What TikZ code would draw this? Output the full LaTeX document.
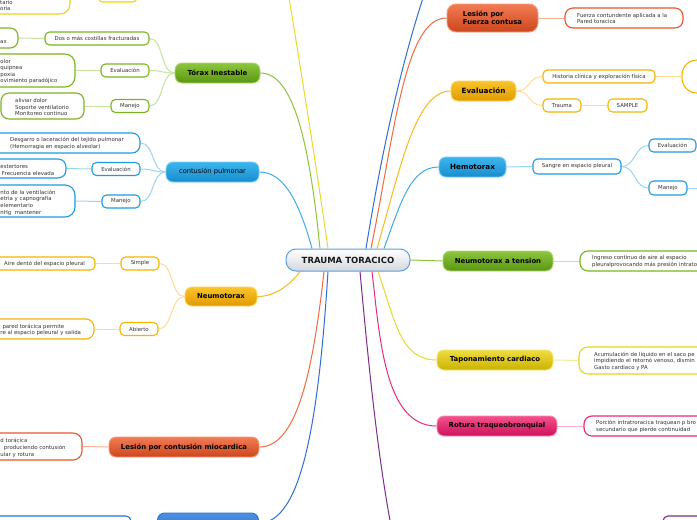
\documentclass[tikz,border=0pt]{standalone}
\usepackage{fontspec}
\setmainfont{DejaVu Sans}
\usetikzlibrary{calc}
\pgfdeclarelayer{bg}
\pgfsetlayers{bg,main}
% green
\definecolor{grnT}{HTML}{8DC63F}\definecolor{grnD}{HTML}{5A9612}\definecolor{grnB}{HTML}{B0D870}
\definecolor{grnS}{HTML}{7AB51F}\definecolor{grnL}{HTML}{C6E29C}\definecolor{grnM}{HTML}{8CC43C}
% light blue
\definecolor{bluT}{HTML}{3DB6EE}\definecolor{bluD}{HTML}{168CCE}\definecolor{bluB}{HTML}{7ACCF2}
\definecolor{bluS}{HTML}{1E9BE0}\definecolor{bluL}{HTML}{9AD6F4}\definecolor{bluM}{HTML}{3AAEE8}
% yellow-orange
\definecolor{orgT}{HTML}{F8C52A}\definecolor{orgD}{HTML}{E09A00}\definecolor{orgB}{HTML}{FFD45A}
\definecolor{orgS}{HTML}{F5B400}\definecolor{orgL}{HTML}{FFDC94}\definecolor{orgM}{HTML}{F7BC1C}
% red-orange
\definecolor{redT}{HTML}{F27C54}\definecolor{redD}{HTML}{CC461C}\definecolor{redB}{HTML}{F89A7A}
\definecolor{redS}{HTML}{E8552A}\definecolor{redL}{HTML}{F8AE94}\definecolor{redM}{HTML}{EE6A40}
% yellow
\definecolor{yelT}{HTML}{EEDC42}\definecolor{yelD}{HTML}{CBB200}\definecolor{yelB}{HTML}{F4E66A}
\definecolor{yelS}{HTML}{E8D41A}\definecolor{yelL}{HTML}{F4EAA0}\definecolor{yelM}{HTML}{E8D830}
% pink
\definecolor{pnkT}{HTML}{F2528C}\definecolor{pnkD}{HTML}{D0105C}\definecolor{pnkB}{HTML}{F88AB2}
\definecolor{pnkS}{HTML}{E8287A}\definecolor{pnkL}{HTML}{F8B0CC}\definecolor{pnkM}{HTML}{EA2A7E}
% dark blue, purple, centre
\definecolor{dbT}{HTML}{4C92E2}\definecolor{dbD}{HTML}{2A6CC2}\definecolor{dbS}{HTML}{2F6FD0}
\definecolor{purM}{HTML}{7B2D8E}
\definecolor{ctrB}{HTML}{5AA0D8}\definecolor{ctrD}{HTML}{D2D8DE}
\definecolor{txtgray}{HTML}{333333}
\begin{document}
\begin{tikzpicture}[x=1pt,y=-1pt,
  mainnode/.style={rectangle, rounded corners=7pt, minimum height=20pt, inner sep=0pt,
    font=\fontsize{6.9}{8.4}\selectfont\bfseries, text=black, line width=0.9pt},
  gmain/.style={mainnode, draw=grnB, top color=grnT, bottom color=grnD},
  bmain/.style={mainnode, draw=bluB, top color=bluT, bottom color=bluD},
  omain/.style={mainnode, draw=orgB, top color=orgT, bottom color=orgD},
  rmain/.style={mainnode, draw=redB, top color=redT, bottom color=redD},
  ymain/.style={mainnode, draw=yelB, top color=yelT, bottom color=yelD},
  pmain/.style={mainnode, draw=pnkB, top color=pnkT, bottom color=pnkD},
  dmain/.style={mainnode, draw=dbS, top color=dbT, bottom color=dbD},
  subnode/.style={rectangle, rounded corners=4.5pt, fill=white, line width=1.1pt,
    minimum height=13pt, inner sep=0pt, font=\fontsize{5.4}{6.5}\selectfont, text=txtgray},
  leafbox/.style={rectangle, rounded corners=8pt, fill=white, line width=1.1pt, inner sep=0pt},
  leaftext/.style={inner sep=0pt, font=\fontsize{5.4}{6.6}\selectfont, text=txtgray, align=left, anchor=west},
  conn/.style={line width=1pt},
  sconn/.style={line width=1pt}
]
\useasboundingbox (0,0) rectangle (697,520);
\begin{scope}
\clip (0,0) rectangle (697,520);
% centre
\node[rectangle, rounded corners=10pt, draw=ctrB, line width=1pt, top color=white, bottom color=ctrD,
  minimum width=124pt, minimum height=22pt, inner sep=0pt,
  font=\fontsize{8.5}{10}\selectfont\bfseries, text=black!90] (ctr) at (348,260) {TRAUMA TORACICO};

% ---------- left: Torax inestable (green)
\node[gmain, minimum width=85pt] (torax) at (217.5,73) {Tórax Inestable};
\node[subnode, draw=grnS, minimum width=104pt] (g1) at (97,38.5) {Dos o más costillas fracturadas};
\node[subnode, draw=grnS, minimum width=48pt] (g2) at (125,70.5) {Evaluación};
\node[subnode, draw=grnS, minimum width=38pt] (g3) at (130,106) {Manejo};
\node[leafbox, draw=grnS, minimum width=48pt, minimum height=20pt] (gl1) at (-6,38) {};
\node[leaftext] (gl1t) at (0,42) {ax};
\node[leafbox, draw=grnS, rounded corners=10pt, minimum width=95pt, minimum height=33pt] (gl2) at (27.5,70.5) {};
\node[leaftext] (gl2t) at (0.3,71.5) {olor\\quipnea\\poxia\\ovimiento paradójico};
\node[leafbox, draw=grnS, minimum width=83pt, minimum height=26pt] (gl3) at (42.5,106) {};
\node[leaftext] (gl3t) at (15,107) {aliviar dolor\\Soporte ventilatorio\\Monitoreo continuo};

% ---------- top yellow (parent off canvas)
\coordinate (ytop) at (282,-45);
\node[subnode, draw=yelS, minimum width=39pt] (ysub) at (117.5,-4.5) {};
\node[leafbox, draw=yelS, rounded corners=10pt, minimum width=100pt, minimum height=44pt] (ytl) at (20,-8) {};
\node[leaftext] (ytlt) at (0,5.5) {tario\\oria};

% ---------- contusion pulmonar (blue)
\node[bmain, minimum width=93pt, font=\fontsize{6.7}{8}\selectfont] (contus) at (212.5,172) {contusión pulmonar};
\node[leafbox, draw=bluS, minimum width=150pt, minimum height=20pt] (b1) at (65,143) {};
\node[leaftext] (b1t) at (10,143.5) {Desgarro o laceración del tejido pulmonar\\(Hemorragia en espacio alveolar)};
\node[subnode, draw=bluS, minimum width=48pt] (b2) at (116,169) {Evaluación};
\node[subnode, draw=bluS, minimum width=38pt] (b3) at (121,201.5) {Manejo};
\node[leafbox, draw=bluS, minimum width=86pt, minimum height=19pt] (bl2) at (23,168.5) {};
\node[leaftext] (bl2t) at (0.3,170) {estertores\\\hspace{1.5pt}Frecuencia elevada};
\node[leafbox, draw=bluS, rounded corners=10pt, minimum width=95pt, minimum height=32pt] (bl3) at (27.5,201) {};
\node[leaftext] (bl3t) at (0.3,202.5) {nto de la ventilación\\etria y capnografía\\elementario\\nHg\ \ mantener};

% ---------- Neumotorax (yellow-orange)
\node[omain, minimum width=72pt, minimum height=19pt] (neumo) at (221,296.5) {Neumotorax};
\node[subnode, draw=orgS, minimum width=38pt] (y1) at (140,263.5) {Simple};
\node[subnode, draw=orgS, minimum width=38pt] (y2) at (139,329) {Abierto};
\node[leafbox, draw=orgS, rounded corners=4.5pt, minimum width=115pt, minimum height=13pt] (yl1) at (37.5,263.5) {};
\node[leaftext] (yl1t) at (4,263.5) {Aire dentó del espacio pleural};
\node[leafbox, draw=orgS, minimum width=114pt, minimum height=20pt] (yl2) at (37,329) {};
\node[leaftext] (yl2t) at (0.3,329.8) {\hspace{2pt}pared torácica permite\\re al espacio peleural y salida};

% ---------- Lesion por contusion miocardica (red-orange)
\node[rmain, minimum width=150pt] (mioc) at (184,447) {Lesión por contusión miocardica};
\node[leafbox, draw=redS, rounded corners=9pt, minimum width=102pt, minimum height=27pt] (ol1) at (31,446.5) {};
\node[leaftext] (ol1t) at (0.3,447.8) {d torácica\\\hspace{3.5pt}produciendo contusión\\ular y rotura};

% ---------- bottom dark blue
\node[dmain, minimum width=101pt] (dbnode) at (208,523) {};
\node[leafbox, draw=dbS, rounded corners=5pt, minimum width=151pt, minimum height=24pt] (dbleaf) at (55.5,528) {};

% ---------- right: Lesion por Fuerza contusa
\node[rmain, minimum width=91pt, minimum height=28pt, align=left, rounded corners=9pt] (fuerza) at (492.5,18) {Lesión por\\Fuerza contusa};
\node[leafbox, draw=redS, minimum width=118pt, minimum height=20pt] (fleaf) at (624,18) {};
\node[leaftext] (fleaft) at (577,18.5) {Fuerza contundente aplicada a la\\Pared toracica};

% ---------- Evaluacion (right)
\node[omain, minimum width=65pt, font=\fontsize{7.2}{8}\selectfont\bfseries] (evalR) at (483.5,91) {Evaluación};
\node[subnode, draw=orgS, minimum width=112pt] (e1) at (599,76.5) {Historia clínica y exploración física};
\node[leafbox, draw=orgS, rounded corners=15pt, minimum width=78pt, minimum height=33pt] (e1l) at (721,76.5) {};
\node[subnode, draw=orgS, minimum width=38pt] (e2) at (562,105.5) {Trauma};
\node[subnode, draw=orgS, minimum width=39pt] (e3) at (627.5,105.5) {SAMPLE};

% ---------- Hemotorax
\node[bmain, minimum width=67pt, font=\fontsize{7.2}{8}\selectfont\bfseries] (hemo) at (472.5,167) {Hemotorax};
\node[subnode, draw=bluS, minimum width=88pt, minimum height=15pt] (h1) at (577,166.5) {Sangre en espacio pleural};
\node[subnode, draw=bluS, minimum width=47pt] (h2) at (672.5,145.5) {Evaluación};
\node[subnode, draw=bluS, minimum width=38pt, minimum height=14pt] (h3) at (668,188) {Manejo};
\coordinate (h3out) at (710,188);

% ---------- Neumotorax a tension
\node[gmain, minimum width=110pt] (ntension) at (498,261) {Neumotorax a tension};
\node[leafbox, draw=grnS, minimum width=160pt, minimum height=20pt] (nleaf) at (660,261) {};
\node[leaftext] (nleaft) at (592,261.5) {Ingreso continuo de aire al espacio\\pleuralprovocando más presión intrato};

% ---------- Taponamiento cardiaco
\node[ymain, minimum width=116pt] (tapon) at (495,360) {Taponamiento cardiaco};
\node[leafbox, draw=yelS, rounded corners=9pt, minimum width=161pt, minimum height=27pt] (tleaf) at (659.5,360.5) {};
\node[leaftext] (tleaft) at (594,361) {Acumulación de líquido en el saco pe\\impidiendo el retornó venoso, dismin\\Gasto cardiaco y PA};

% ---------- Rotura traqueobronquial
\node[pmain, minimum width=120pt] (rotura) at (497,426) {Rotura traqueobronquial};
\node[leafbox, draw=pnkS, minimum width=156pt, minimum height=20pt] (rleaf) at (662,426) {};
\node[leaftext] (rleaft) at (596,426.5) {Porción intratroracica traquean p bro\\secundario que pierde continuidad};

% ---------- purple (parent off canvas)
\node[leafbox, draw=purM, rounded corners=5pt, minimum width=97pt, minimum height=24pt] (pleaf) at (711.5,528) {};
\coordinate (pbot) at (398,560);
\coordinate (dbtop) at (440,-50);
\end{scope}

\begin{pgfonlayer}{bg}
\fill[white] (0,0) rectangle (697,520);
\clip (0,0) rectangle (697,520);
% main connectors
\draw[conn, draw=bluM] ($(ctr.north)+(-36,0)$) .. controls (300,205) and (285,172) .. (contus.east);
\draw[conn, draw=grnM] ($(ctr.north)+(-28,0)$) .. controls (310,150) and (295,73) .. (torax.east);
\draw[conn, draw=yelM] ($(ctr.north)+(-20,0)$) .. controls (314,150) and (296,40) .. (ytop);
\draw[conn, draw=dbS] ($(ctr.north)+(18,0)$) .. controls (382,150) and (405,40) .. (dbtop);
\draw[conn, draw=redM] ($(ctr.north)+(23,0)$) .. controls (395,130) and (405,18) .. (fuerza.west);
\draw[conn, draw=orgM] ($(ctr.north)+(29,0)$) .. controls (400,170) and (415,91) .. (evalR.west);
\draw[conn, draw=bluM] ($(ctr.north)+(36,0)$) .. controls (400,205) and (410,167) .. (hemo.west);
\draw[conn, draw=grnM] (ctr.east) -- (ntension.west);
\draw[conn, draw=yelM] ($(ctr.south)+(30,0)$) .. controls (395,320) and (400,360) .. (tapon.west);
\draw[conn, draw=pnkM] ($(ctr.south)+(24,0)$) .. controls (380,340) and (385,426) .. (rotura.west);
\draw[conn, draw=purM] ($(ctr.south)+(12,0)$) .. controls (370,380) and (380,480) .. (pbot);
\draw[conn, draw=orgM] ($(ctr.south)+(-48,0)$) .. controls (290,285) and (275,296.5) .. (neumo.east);
\draw[conn, draw=redM] ($(ctr.south)+(-24,0)$) .. controls (312,380) and (295,447) .. (mioc.east);
\draw[conn, draw=dbS] ($(ctr.south)+(-20,0)$) .. controls (318,430) and (300,523) .. (dbnode.east);
% green sub
\draw[sconn, draw=grnL] (torax.west) .. controls +(-14,0) and +(14,0) .. (g1.east);
\draw[sconn, draw=grnL] (torax.west) .. controls +(-14,0) and +(14,0) .. (g2.east);
\draw[sconn, draw=grnL] (torax.west) .. controls +(-14,0) and +(14,0) .. (g3.east);
\draw[sconn, draw=grnL] (g1.west) -- (gl1.east);
\draw[sconn, draw=grnL] (g2.west) -- (gl2.east);
\draw[sconn, draw=grnL] (g3.west) -- (gl3.east);
\draw[sconn, draw=yelL] (ysub.west) -- (ytl.east);
% blue sub
\draw[sconn, draw=bluL] (contus.west) .. controls +(-14,0) and +(14,0) .. (b1.east);
\draw[sconn, draw=bluL] (contus.west) .. controls +(-14,0) and +(14,0) .. (b2.east);
\draw[sconn, draw=bluL] (contus.west) .. controls +(-14,0) and +(14,0) .. (b3.east);
\draw[sconn, draw=bluL] (b2.west) -- (bl2.east);
\draw[sconn, draw=bluL] (b3.west) -- (bl3.east);
% neumotorax sub
\draw[sconn, draw=orgL] (neumo.west) .. controls +(-14,0) and +(14,0) .. (y1.east);
\draw[sconn, draw=orgL] (neumo.west) .. controls +(-14,0) and +(14,0) .. (y2.east);
\draw[sconn, draw=orgL] (y1.west) -- (yl1.east);
\draw[sconn, draw=orgL] (y2.west) -- (yl2.east);
% miocardica, dark blue
\draw[sconn, draw=redL] (mioc.west) -- (ol1.east);
\draw[sconn, draw=dbS!50] (dbnode.west) -- (dbleaf.east);
% right side
\draw[sconn, draw=redL] (fuerza.east) -- (fleaf.west);
\draw[sconn, draw=orgL] (evalR.east) .. controls +(14,0) and +(-14,0) .. (e1.west);
\draw[sconn, draw=orgL] (evalR.east) .. controls +(14,0) and +(-14,0) .. (e2.west);
\draw[sconn, draw=orgL] (e1.east) -- (e1l.west);
\draw[sconn, draw=orgL] (e2.east) -- (e3.west);
\draw[sconn, draw=bluL] (hemo.east) -- (h1.west);
\draw[sconn, draw=bluL] (h1.east) .. controls +(14,0) and +(-14,0) .. (h2.west);
\draw[sconn, draw=bluL] (h1.east) .. controls +(14,0) and +(-14,0) .. (h3.west);
\draw[sconn, draw=bluL] (h3.east) -- (h3out);
\draw[sconn, draw=grnL] (ntension.east) -- (nleaf.west);
\draw[sconn, draw=yelL] (tapon.east) -- (tleaf.west);
\draw[sconn, draw=pnkL] (rotura.east) -- (rleaf.west);
\end{pgfonlayer}
\end{tikzpicture}
\end{document}
